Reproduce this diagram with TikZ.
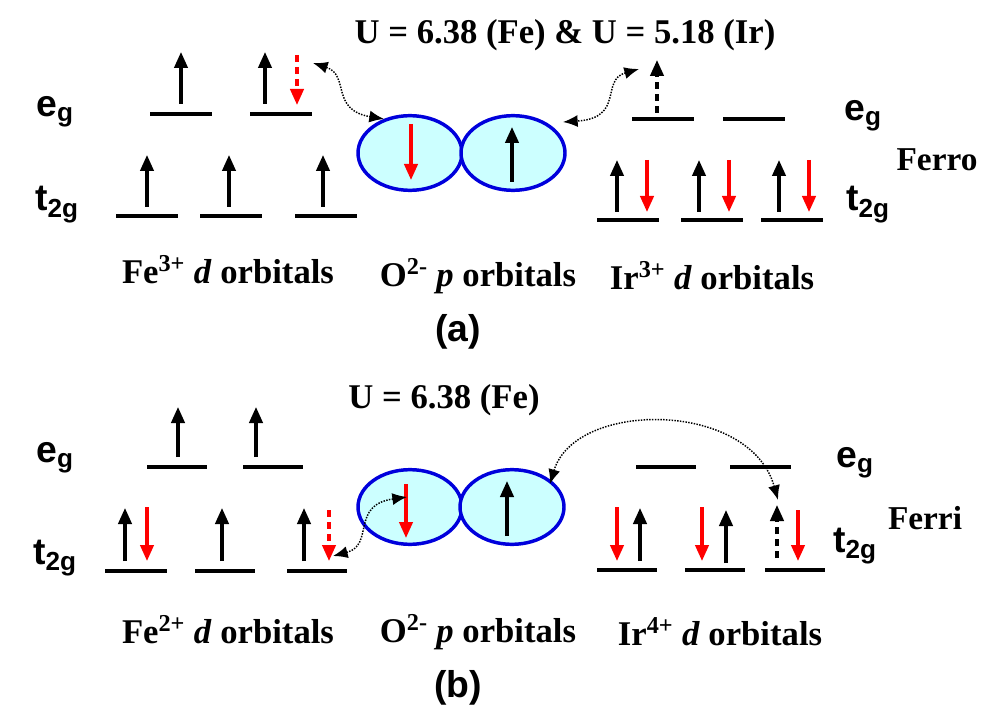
\documentclass[tikz,border=0pt]{standalone}
\usepackage{fontspec}
\setmainfont{Liberation Serif}
\setsansfont{Liberation Sans}
\usetikzlibrary{arrows.meta,shapes.geometric}
\definecolor{orbfill}{RGB}{204,255,255}
\definecolor{orbline}{RGB}{0,0,220}
\tikzset{
  lvl/.style={line width=2.8pt},
  sp/.style={line width=2.4pt,-{Triangle[length=12pt,width=10pt]}},
  up/.style={sp,black},
  dn/.style={sp,red},
  dsh/.style={dash pattern=on 5pt off 4pt},
  orb/.style={draw=orbline,line width=2.6pt,fill=orbfill,ellipse,minimum width=78pt,minimum height=56pt,inner sep=0pt},
  hop/.style={densely dotted,line width=1.1pt,{Latex[length=11pt,width=9pt]}-{Latex[length=11pt,width=9pt]}},
  lab/.style={font=\fontsize{26}{28}\selectfont\bfseries},
  sl/.style={font=\sffamily\fontsize{28}{30}\selectfont\bfseries},
  fr/.style={font=\fontsize{25}{27}\selectfont\bfseries}
}
\begin{document}
\begin{tikzpicture}[x=0.75pt,y=-0.75pt]
\useasboundingbox (0,0) rectangle (1006,720);
% ---------- panel (a)
\node[lab] (ta) at (565,35) {U = 6.38 (Fe) \& U = 5.18 (Ir)};
\node[sl] (ega) at (55,112) {e\textsubscript{g}};
\node[sl] (tga) at (57,205) {t\textsubscript{2g}};
\node[sl] (egar) at (863,116) {e\textsubscript{g}};
\node[sl] (tgar) at (868,205) {t\textsubscript{2g}};
\node[fr] (ferro) at (937,160) {Ferro};
\draw[lvl] (150,114) -- (212,114);
\draw[lvl] (250,114) -- (312,114);
\draw[up] (181,104) -- (181,52);
\draw[up] (265,104) -- (265,52);
\draw[dn,dsh] (297,55) -- (297,105);
\foreach \a/\b in {116/178,200/262,295/357} \draw[lvl] (\a,216) -- (\b,216);
\foreach \x in {147,229,323} \draw[up] (\x,207) -- (\x,155);
\node[orb] (oa1) at (410,153) {};
\node[orb] (oa2) at (513,153) {};
\draw[dn] (411,124) -- (411,180);
\draw[up] (512,182) -- (512,127);
\draw[lvl] (632,119) -- (694,119);
\draw[lvl] (723,119) -- (785,119);
\draw[up,dsh] (657,113) -- (657,60);
\foreach \a/\b in {597/659,681/743,761/823} \draw[lvl] (\a,220) -- (\b,220);
\foreach \x in {617,699,779} {\draw[up] (\x,212) -- (\x,160); \draw[dn] (\x+30,160) -- (\x+30,212);}
\coordinate (ha1) at (313,63);
\coordinate (ha2) at (384,119);
\coordinate (ha3) at (639,69);
\coordinate (ha4) at (563,122);
\draw[hop] (ha1) .. controls (350,75) and (330,110) .. (ha2);
\draw[hop] (ha3) .. controls (600,80) and (625,118) .. (ha4);
\node[lab] (la1) at (228,270) {Fe\textsuperscript{3+} \textit{d} orbitals};
\node[lab] (la2) at (478,276) {O\textsuperscript{2-} \textit{p} orbitals};
\node[lab] (la3) at (712,276) {Ir\textsuperscript{3+} \textit{d} orbitals};
\node[sl] (pa) at (458,332) {(a)};
% ---------- panel (b)
\node[lab] (tb) at (444,400) {U = 6.38 (Fe)};
\node[sl] (egb) at (55,458) {e\textsubscript{g}};
\node[sl] (tgb) at (55,558) {t\textsubscript{2g}};
\node[sl] (egbr) at (855,463) {e\textsubscript{g}};
\node[sl] (tgbr) at (855,546) {t\textsubscript{2g}};
\node[fr] (ferri) at (925,518) {Ferri};
\draw[lvl] (147,467) -- (207,467);
\draw[lvl] (243,467) -- (303,467);
\draw[up] (178,457) -- (178,407);
\draw[up] (256,457) -- (256,407);
\foreach \a/\b in {105/167,195/255,287/347} \draw[lvl] (\a,571) -- (\b,571);
\draw[up] (125,561) -- (125,508);
\draw[dn] (147,507) -- (147,561);
\draw[up] (222,561) -- (222,508);
\draw[up] (304,561) -- (304,508);
\draw[dn,dsh] (329,510) -- (329,561);
\node[orb] (ob1) at (410,507) {};
\node[orb] (ob2) at (512,507) {};
\draw[dn] (406,484) -- (406,538);
\draw[up] (507,536) -- (507,481);
\draw[lvl] (636,467) -- (696,467);
\draw[lvl] (730,467) -- (791,467);
\foreach \a/\b in {597/657,685/745,765/825} \draw[lvl] (\a,570) -- (\b,570);
\draw[dn] (617,507) -- (617,561);
\draw[up] (640,561) -- (640,508);
\draw[dn] (702,507) -- (702,561);
\draw[up] (726,563) -- (726,510);
\draw[up,dsh] (777,558) -- (777,505);
\draw[dn] (798,510) -- (798,561);
\coordinate (hb1) at (550,484);
\coordinate (hb2) at (778,500);
\coordinate (hb3) at (333,556);
\coordinate (hb4) at (407,497);
\draw[hop] (hb1) .. controls (575,400) and (750,400) .. (hb2);
\draw[hop] (hb3) .. controls (375,545) and (350,505) .. (hb4);
\node[lab] (lb1) at (228,630) {Fe\textsuperscript{2+} \textit{d} orbitals};
\node[lab] (lb2) at (478,632) {O\textsuperscript{2-} \textit{p} orbitals};
\node[lab] (lb3) at (720,632) {Ir\textsuperscript{4+} \textit{d} orbitals};
\node[sl] (pb) at (458,688) {(b)};
\end{tikzpicture}
\end{document}
